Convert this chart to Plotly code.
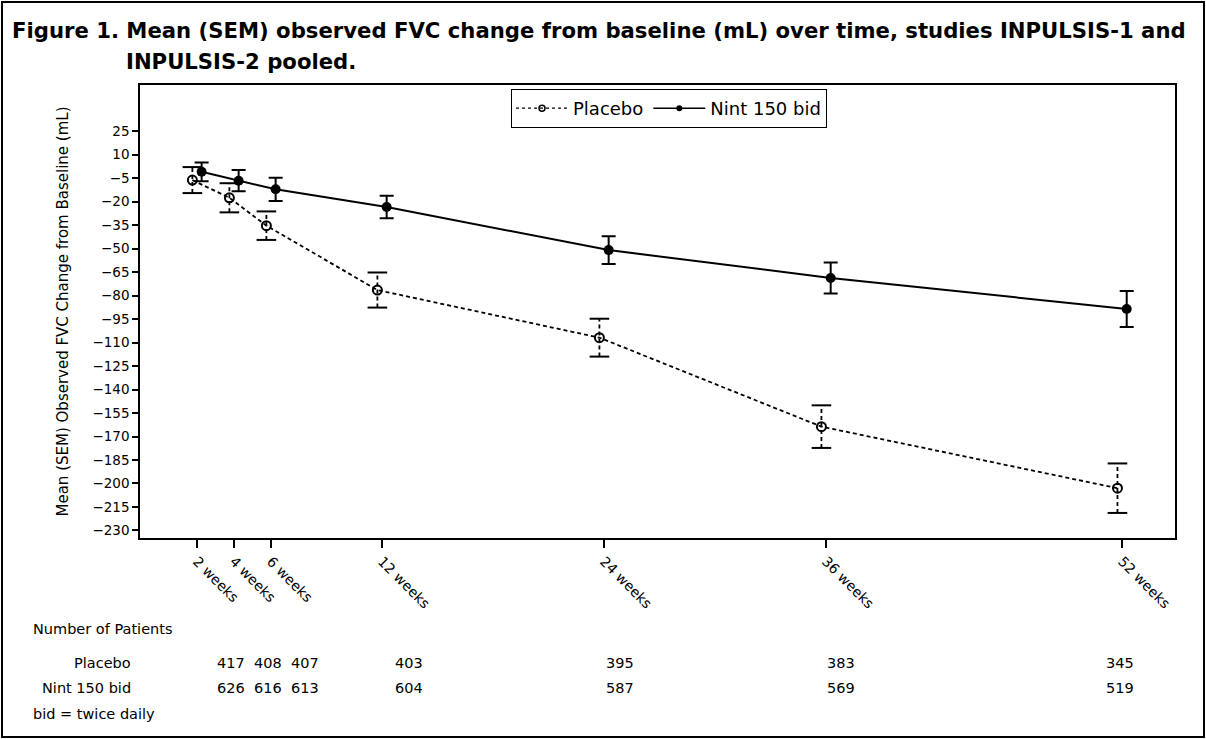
import plotly.graph_objects as go

# ---- data ----
weeks = [2, 4, 6, 12, 24, 36, 52]
week_labels = ["2 weeks", "4 weeks", "6 weeks", "12 weeks", "24 weeks", "36 weeks", "52 weeks"]
placebo_mean = [-6.3, -17.6, -35.4, -76.5, -106.9, -163.7, -203.0]
placebo_sem = [8.3, 9.3, 9.1, 11.2, 12.1, 13.6, 15.8]
nint_mean = [-1.0, -6.7, -12.2, -23.5, -51.0, -68.8, -88.6]
nint_sem = [6.0, 6.8, 7.4, 7.2, 8.9, 9.9, 11.5]
placebo_n = [417, 408, 407, 403, 395, 383, 345]
nint_n = [626, 616, 613, 604, 587, 569, 519]
y_ticks = list(range(25, -231, -15))

# ---- layout constants ----
offset = 0.25
table_x = [3.85, 5.85, 7.85, 13.45, 24.85, 36.8, 51.9]
FONT = "DejaVu Sans, Liberation Sans, Arial, sans-serif"
L, T, W, H = 140, 85, 1035, 453  # plot area in px

def xp(p):
    return (p - L) / W

def yp(p):
    return (T + H - p) / H

px = [w - offset for w in weeks]
nx = [w + offset for w in weeks]

fig = go.Figure()

# placebo dashed error bars (vertical part)
ex, ey = [], []
for x, m, s in zip(px, placebo_mean, placebo_sem):
    ex += [x, x, None]
    ey += [m - s, m + s, None]
fig.add_trace(go.Scatter(x=ex, y=ey, mode="lines", showlegend=False, hoverinfo="skip",
                         line=dict(color="black", width=1.8, dash="4px,3px")))
# placebo caps
fig.add_trace(go.Scatter(x=px + px,
                         y=[m + s for m, s in zip(placebo_mean, placebo_sem)] +
                           [m - s for m, s in zip(placebo_mean, placebo_sem)],
                         mode="markers", showlegend=False, hoverinfo="skip",
                         marker=dict(symbol="line-ew", size=14, line=dict(color="black", width=2))))

fig.add_trace(go.Scatter(x=px, y=placebo_mean, mode="lines+markers", name="Placebo",
                         legendgroup="p", showlegend=False,
                         line=dict(color="black", width=1.8, dash="4px,3px"),
                         marker=dict(symbol="circle-open", size=9, color="black",
                                     line=dict(color="black", width=2))))

fig.add_trace(go.Scatter(x=nx, y=nint_mean, mode="lines+markers", name="Nint 150 bid",
                         legendgroup="n", showlegend=False,
                         line=dict(color="black", width=2),
                         marker=dict(symbol="circle", size=10, color="black"),
                         error_y=dict(type="data", array=nint_sem, visible=True,
                                      color="black", thickness=2, width=7)))

# legend-only entries (smaller symbols as in the original legend)
fig.add_trace(go.Scatter(x=[None], y=[None], mode="lines+markers", name="Placebo",
                         legendgroup="p",
                         line=dict(color="black", width=1.2, dash="3px,3px"),
                         marker=dict(symbol="circle-open", size=6, color="black",
                                     line=dict(color="black", width=1.5))))
fig.add_trace(go.Scatter(x=[None], y=[None], mode="lines+markers", name="Nint 150 bid",
                         legendgroup="n",
                         line=dict(color="black", width=1.5),
                         marker=dict(symbol="circle", size=6, color="black")))

annotations = []
tfont = dict(size=21.2, color="black", family="DejaVu Sans, Liberation Sans, Arial, sans-serif")
annotations.append(dict(text="<b>Figure 1. Mean (SEM) observed FVC change from baseline (mL) over time, studies INPULSIS-1 and</b>",
                        xref="paper", yref="paper", x=xp(10), y=yp(30),
                        xanchor="left", yanchor="middle", showarrow=False, font=tfont))
annotations.append(dict(text="<b>INPULSIS-2 pooled.</b>",
                        xref="paper", yref="paper", x=xp(124), y=yp(62),
                        xanchor="left", yanchor="middle", showarrow=False, font=tfont))
annotations.append(dict(text="Mean (SEM) Observed FVC Change from Baseline (mL)",
                        xref="paper", yref="paper", x=xp(62), y=0.5,
                        xanchor="center", yanchor="middle", textangle=-90, showarrow=False,
                        font=dict(size=15, color="black", family=FONT)))

tabfont = dict(size=14.5, color="black", family=FONT)
annotations.append(dict(text="Number of Patients", xref="paper", yref="paper",
                        x=xp(31), y=yp(629), xanchor="left", yanchor="middle",
                        showarrow=False, font=tabfont))
annotations.append(dict(text="Placebo", xref="paper", yref="paper",
                        x=xp(133), y=yp(663), xanchor="right", yanchor="middle",
                        showarrow=False, font=tabfont))
annotations.append(dict(text="Nint 150 bid", xref="paper", yref="paper",
                        x=xp(133), y=yp(688), xanchor="right", yanchor="middle",
                        showarrow=False, font=tabfont))
annotations.append(dict(text="bid = twice daily", xref="paper", yref="paper",
                        x=xp(31), y=yp(714), xanchor="left", yanchor="middle",
                        showarrow=False, font=tabfont))
for tx, a, b in zip(table_x, placebo_n, nint_n):
    annotations.append(dict(text=str(a), xref="x", yref="paper", x=tx, y=yp(663),
                            xanchor="center", yanchor="middle", showarrow=False, font=tabfont))
    annotations.append(dict(text=str(b), xref="x", yref="paper", x=tx, y=yp(688),
                            xanchor="center", yanchor="middle", showarrow=False, font=tabfont))

shapes = [dict(type="rect", xref="paper", yref="paper",
               x0=xp(2), x1=xp(1204), y0=yp(737), y1=yp(2),
               line=dict(color="black", width=2), fillcolor="rgba(0,0,0,0)", layer="below")]

fig.update_layout(
    width=1206, height=739,
    margin=dict(l=L, r=1206 - L - W, t=T, b=739 - T - H, pad=0),
    paper_bgcolor="white", plot_bgcolor="white",
    font=dict(family=FONT, color="black", size=14),
    showlegend=True,
    legend=dict(orientation="h", x=xp(669), xanchor="center", y=yp(89), yanchor="top",
                bordercolor="black", borderwidth=1, bgcolor="white",
                font=dict(size=18, family=FONT, color="black"), itemwidth=52,
                tracegroupgap=0),
    annotations=annotations,
    shapes=shapes,
    xaxis=dict(range=[-1.081, 54.86], tickmode="array", tickvals=weeks, ticktext=week_labels,
               tickangle=45, ticks="outside", ticklen=8, tickwidth=1.5, tickcolor="black",
               showline=True, linecolor="black", linewidth=1.5, mirror=True,
               showgrid=False, zeroline=False, tickfont=dict(size=14, family=FONT)),
    yaxis=dict(range=[-234.8, 54.4], tickmode="array", tickvals=y_ticks,
               ticks="outside", ticklen=6, tickwidth=1.5, tickcolor="black",
               showline=True, linecolor="black", linewidth=1.5, mirror=True,
               showgrid=False, zeroline=False, tickfont=dict(size=13.5, family=FONT)),
)

fig.write_html("out.html", config={"displayModeBar": False},
               post_script="document.body.style.margin='0px';document.body.style.overflow='hidden';")
